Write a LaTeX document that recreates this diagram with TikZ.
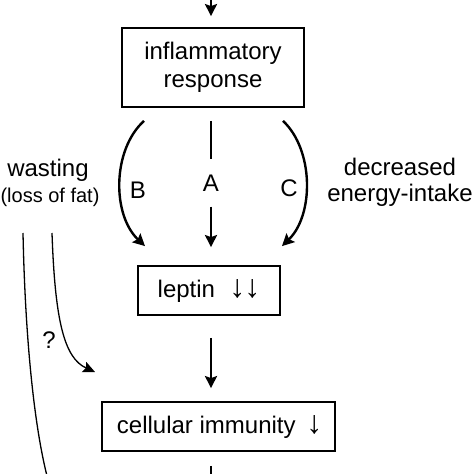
\documentclass[tikz,border=0pt]{standalone}
\usepackage{fontspec}
\setmainfont{Liberation Sans}
\usetikzlibrary{arrows.meta}
\newcommand{\bas}{{\fontsize{32}{32}\selectfont ↓}}
\tikzset{
    boite/.style={draw, line width=1.8pt, inner sep=0pt, align=center,
        font=\fontsize{24}{28}\selectfont},
    texte/.style={inner sep=0pt, align=center, font=\fontsize{24}{28}\selectfont},
    trait/.style={line width=2.4pt},
    fleche/.style={line width=2.4pt, -{Stealth[length=12pt,width=12pt,inset=2pt]}},
    fine/.style={line width=1.3pt},
}
\begin{document}
\begin{tikzpicture}[x=1pt,y=-1pt]
            \useasboundingbox (0,0) rectangle (474,474);
            % Réponse inflammatoire, leptine et immunité cellulaire
            \node[boite, minimum width=182pt, minimum height=79pt] (infl) at (213,67.5) {inflammatory\\response};
            \node[boite, minimum width=142pt, minimum height=49pt] (lep) at (209,290.5) {leptin\hspace{0.6em}\bas\hspace{-0.05em}\bas};
            \node[boite, minimum width=233pt, minimum height=49pt] (cell) at (218.5,426.5) {\hspace{0.1em}cellular immunity\hspace{0.45em}\bas};
            \node[texte, minimum height=47pt] (A) at (211,183) {A};
            \node[texte] (B) at (138,190) {B};
            \node[texte] (C) at (289,188) {C};
            \node[texte] (wast) at (48,170) {wasting};
            \node[texte, font=\fontsize{20}{24}\selectfont] (loss) at (50,197) {(loss of fat)};
            \node[texte] (decr) at (400,167) {decreased};
            \node[texte] (ener) at (400,195) {energy-intake};
            \node[texte] (quest) at (49,340) {?};
            \coordinate (haut) at (211,-2);
            \coordinate (fin) at (211,476);
            \coordinate (g1) at (23,233);
            \coordinate (g2) at (47,476);
            \coordinate (h1) at (52,233);
            \coordinate (h2) at (95,372);
            \draw[fleche, shorten >=11pt] (haut) -- (haut |- infl.north);
            \draw[trait, shorten <=13pt] (A |- infl.south) -- (A);
            \draw[fleche, shorten >=18pt] (A) -- (A |- lep.north);
            \draw[fleche] ([shift={(-69,13)}]infl.south) .. controls (112,150) and (112,215) .. ([shift={(-64,-19)}]lep.north);
            \draw[fleche] ([shift={(70,13)}]infl.south) .. controls (314,150) and (314,215) .. ([shift={(73,-19)}]lep.north);
            \draw[fleche, shorten <=22pt, shorten >=13pt] (A |- lep.south) -- (A |- cell.north);
            \draw[trait, shorten <=14pt] (fin |- cell.south) -- (fin);
            \draw[fine] (g1) .. controls (25,330) and (33,420) .. (g2);
            \draw[fine, -{Stealth[length=12pt,width=11pt,inset=2pt]}] (h1) .. controls (55,320) and (64,358) .. (h2);
        \end{tikzpicture}
\end{document}
